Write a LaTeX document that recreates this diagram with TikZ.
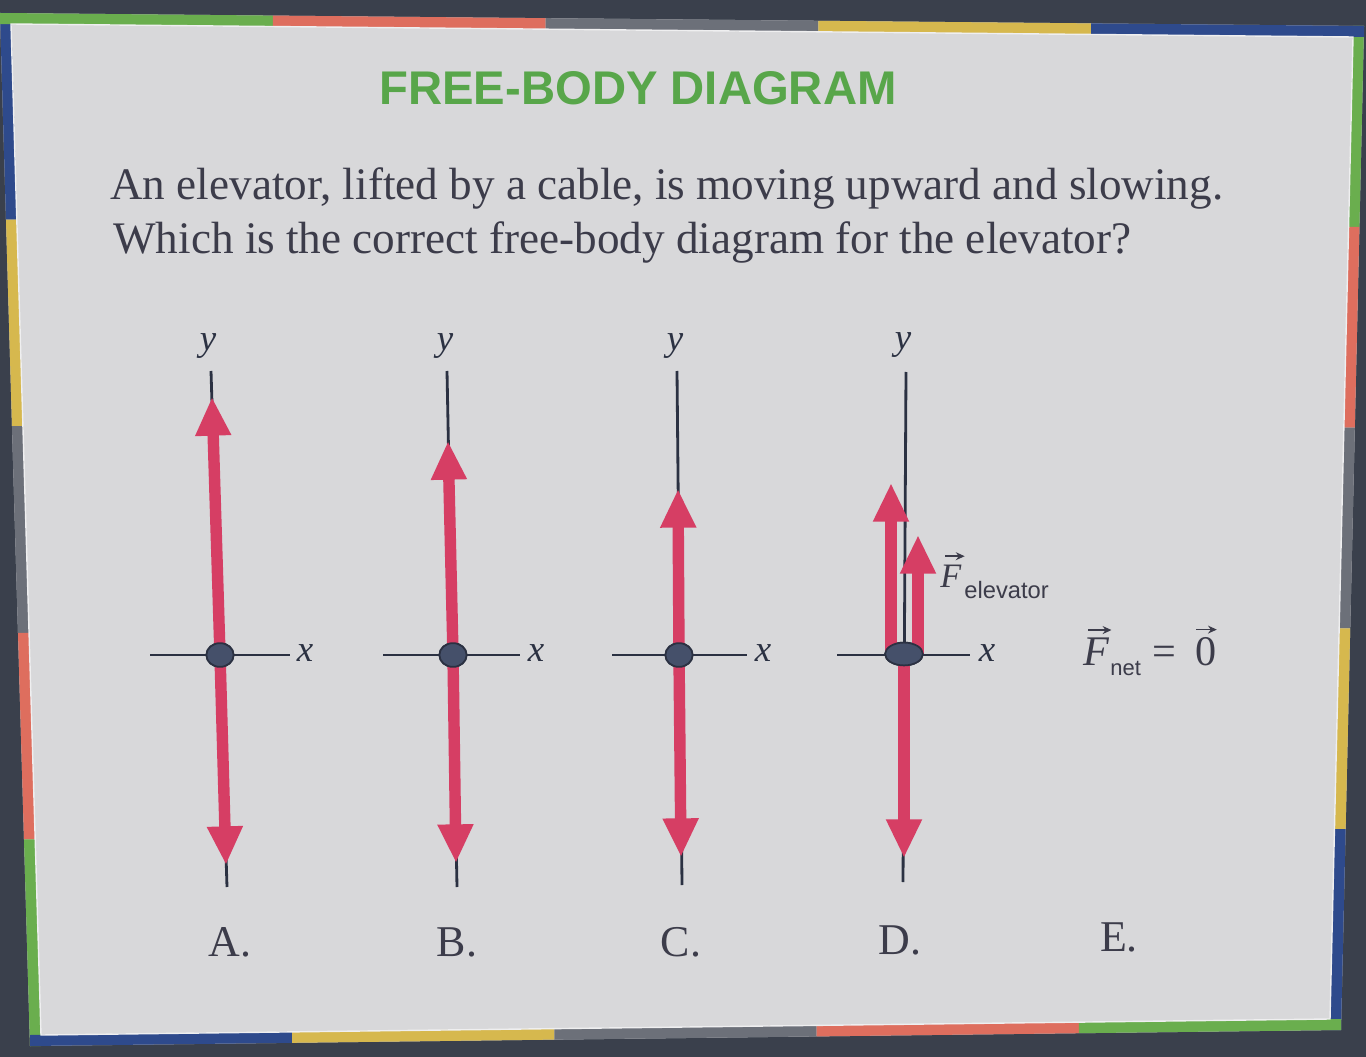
\documentclass[tikz,border=0pt]{standalone}
\usepackage{fontspec}
\setmainfont{Liberation Serif}
\newfontfamily\sansfont{Liberation Sans}
\usepackage{xcolor}
\usepackage{tikz}
\usetikzlibrary{
  arrows.meta,
  calc,
  shapes.geometric
}
\definecolor{screencol}{HTML}{3A404C}
\definecolor{slidecol}{HTML}{D8D8DA}
\definecolor{stripgreen}{HTML}{6AAE4E}
\definecolor{stripred}{HTML}{DE6E5E}
\definecolor{stripgray}{HTML}{6C7079}
\definecolor{stripyellow}{HTML}{D6B84E}
\definecolor{stripblue}{HTML}{2E4A8C}
\definecolor{titlecol}{HTML}{58A64A}
\definecolor{textcol}{HTML}{3C3C4A}
\definecolor{axiscol}{HTML}{2B3142}
\definecolor{forcecol}{HTML}{D63E64}
\definecolor{bodycol}{HTML}{45506A}

\begin{document}
\begin{tikzpicture}[
          x=0.02cm,y=-0.02cm,
          axis/.style={draw=axiscol, line width=1.6pt},
          force/.style={
              draw=forcecol, line width=6.5pt,
              -{Triangle[length=22pt,width=19pt]}
            },
          body/.style={
              ellipse, fill=bodycol, draw=axiscol, line width=1pt,
              minimum width=15.5pt, minimum height=13.5pt, inner sep=0pt
            },
          vecarrow/.style={draw=textcol, line width=0.9pt, -{Stealth[length=5pt,width=4.5pt]}},
          axlabel/.style={font=\fontsize{21}{21}\selectfont\itshape, text=axiscol, inner sep=0pt},
          choice/.style={font=\fontsize{25}{25}\selectfont, text=textcol, inner sep=0pt},
          sublabel/.style={font=\sansfont\fontsize{13.5}{13.5}\selectfont, text=textcol, inner sep=0pt, anchor=base west},
          question/.style={font=\fontsize{25.7}{30}\selectfont, text=textcol, inner sep=0pt, anchor=base west}
        ]
        \useasboundingbox (0,0) rectangle (1366,1057);

        % 画面の背景
        \fill[screencol] (0,0) rectangle (1366,1057);

        % スライドの四隅
        \coordinate (TL) at (0,13);
        \coordinate (TR) at (1364,26);
        \coordinate (BR) at (1341,1030);
        \coordinate (BL) at (30,1046);
        \fill[slidecol] (TL) -- (TR) -- (BR) -- (BL) -- cycle;

        % 枠の色帯
        \foreach \c [count=\i from 0] in {stripblue,stripyellow,stripgray,stripred,stripgreen}
        \fill[\c] ($(TL)!{\i/5}!(BL)$) -- ($(TL)!{(\i+1)/5}!(BL)$) -- ++(11,0) -- ($(TL)!{\i/5}!(BL)+(11,0)$) -- cycle;
        \foreach \c [count=\i from 0] in {stripgreen,stripred,stripgray,stripyellow,stripblue}
        \fill[\c] ($(TR)!{\i/5}!(BR)$) -- ($(TR)!{(\i+1)/5}!(BR)$) -- ++(-11,0) -- ($(TR)!{\i/5}!(BR)+(-11,0)$) -- cycle;
        \foreach \c [count=\i from 0] in {stripgreen,stripred,stripgray,stripyellow,stripblue}
        \fill[\c] ($(TL)!{\i/5}!(TR)$) -- ($(TL)!{(\i+1)/5}!(TR)$) -- ++(0,11) -- ($(TL)!{\i/5}!(TR)+(0,11)$) -- cycle;
        \foreach \c [count=\i from 0] in {stripblue,stripyellow,stripgray,stripred,stripgreen}
        \fill[\c] ($(BL)!{\i/5}!(BR)$) -- ($(BL)!{(\i+1)/5}!(BR)$) -- ++(0,-11) -- ($(BL)!{\i/5}!(BR)+(0,-11)$) -- cycle;
        \draw[white!60!slidecol, line width=0.8pt] ($(TL)+(11,11)$) -- ($(TR)+(-11,11)$)
        -- ($(BR)+(-11,-11)$) -- ($(BL)+(11,-11)$) -- cycle;

        % 見出しと問題文
        \node[font=\sansfont\bfseries\fontsize{26.9}{30}\selectfont, text=titlecol] (title) at (638,88) {FREE-BODY DIAGRAM};
        \node[question] (q1) at (110,200) {An elevator, lifted by a cable, is moving upward and slowing.};
        \node[question] (q2) at (113,254) {Which is the correct free-body diagram for the elevator?};

        % A
        \coordinate (ytopA) at (211,371);
        \coordinate (ybotA) at (227,887);
        \coordinate (upA) at (212,397);
        \coordinate (downA) at (226,865);
        \draw[axis] (ytopA) -- (ybotA);
        \draw[axis] (150,655) -- (290,655);
        \node[body] (dotA) at (220,655) {};
        \draw[force] (dotA.center) -- (upA);
        \draw[force] (dotA.center) -- (downA);
        \node[body] at (dotA) {};
        \node[axlabel] (yA) at (208,346) {y};
        \node[axlabel] (xA) at (305,653) {x};
        \node[choice] (labA) at (230,942) {A.};

        % B
        \coordinate (ytopB) at (447,371);
        \coordinate (ybotB) at (457,887);
        \coordinate (upB) at (448,441);
        \coordinate (downB) at (456,863);
        \draw[axis] (ytopB) -- (ybotB);
        \draw[axis] (383,655) -- (520,655);
        \node[body] (dotB) at (453,655) {};
        \draw[force] (dotB.center) -- (upB);
        \draw[force] (dotB.center) -- (downB);
        \node[body] at (dotB) {};
        \node[axlabel] (yB) at (445,346) {y};
        \node[axlabel] (xB) at (536,653) {x};
        \node[choice] (labB) at (457,942) {B.};

        % C
        \coordinate (ytopC) at (677,371);
        \coordinate (ybotC) at (682,885);
        \coordinate (upC) at (678,489);
        \coordinate (downC) at (681,857);
        \draw[axis] (ytopC) -- (ybotC);
        \draw[axis] (612,655) -- (747,655);
        \node[body] (dotC) at (679,655) {};
        \draw[force] (dotC.center) -- (upC);
        \draw[force] (dotC.center) -- (downC);
        \node[body] at (dotC) {};
        \node[axlabel] (yC) at (675,346) {y};
        \node[axlabel] (xC) at (763,653) {x};
        \node[choice] (labC) at (681,942) {C.};

        % D
        \coordinate (ytopD) at (906,372);
        \coordinate (ybotD) at (903,882);
        \coordinate (upDl) at (891,483);
        \coordinate (upDr) at (918,535);
        \coordinate (downD) at (904,858);
        \draw[axis] (ytopD) -- (ybotD);
        \draw[axis] (837,655) -- (970,655);
        \node[body, minimum width=21.5pt, minimum height=13pt] (dotD) at (904,654) {};
        \draw[force] (dotD.center -| upDl) -- (upDl);
        \draw[force] (dotD.center -| upDr) -- (upDr);
        \draw[force] (dotD.center) -- (downD);
        \node[body, minimum width=21.5pt, minimum height=13pt] at (dotD) {};
        \node[axlabel] (yD) at (903,345) {y};
        \node[axlabel] (xD) at (987,653) {x};
        \node[anchor=base west, inner sep=0pt, text=textcol, font=\fontsize{19.5}{19.5}\selectfont\itshape] (Fel) at (940,587) {F};
        \node[sublabel] (elev) at (964,598) {elevator};
        \draw[vecarrow] ($(Fel.north west)+(5,-8)$) -- ($(Fel.north east)+(3,-8)$);
        \node[choice] (labD) at (900,940) {D.};

        % E
        \node[anchor=base west, inner sep=0pt, text=textcol, font=\fontsize{24}{24}\selectfont\itshape] (Fnet) at (1083,665) {F};
        \node[sublabel, font=\sansfont\fontsize{12.5}{12.5}\selectfont] (net) at (1110,675) {net};
        \node[anchor=base west, inner sep=0pt, text=textcol, font=\fontsize{24}{24}\selectfont] (eq) at (1152,665) {=};
        \node[anchor=base west, inner sep=0pt, text=textcol, font=\fontsize{24}{24}\selectfont] (zero) at (1195,665) {0};
        \draw[vecarrow] ($(Fnet.north west)+(5,-7)$) -- ($(Fnet.north east)+(2,-7)$);
        \draw[vecarrow] ($(zero.north west)+(1,-7)$) -- ($(zero.north east)+(0,-7)$);
        \node[choice] (labE) at (1119,937) {E.};

      \end{tikzpicture}
\end{document}
